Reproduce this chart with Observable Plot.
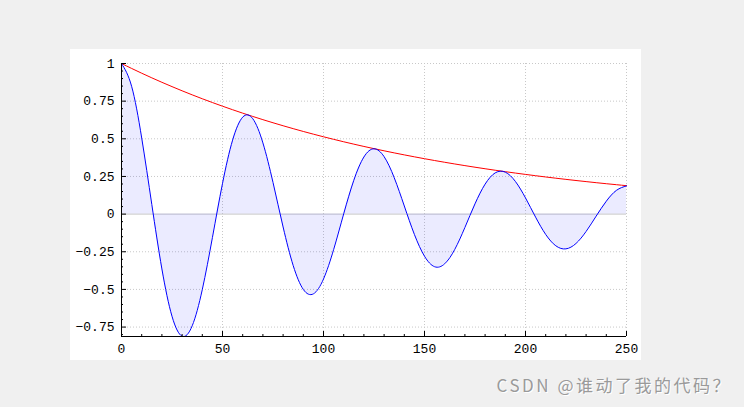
<!DOCTYPE html>
<html><head><meta charset="utf-8">
<script src="https://cdn.jsdelivr.net/npm/d3@7"></script>
<script src="https://cdn.jsdelivr.net/npm/@observablehq/plot@0.6"></script>
<style>
html,body{margin:0;padding:0;background:#f0f0f0;}
#wrap{position:relative;width:744px;height:407px;background:#f0f0f0;overflow:hidden;}
#chart{position:absolute;left:70px;top:49px;}
#mark{position:absolute;right:12px;top:376px;font-family:"Noto Sans CJK SC";font-size:17px;letter-spacing:2.5px;color:#9a9a9a;text-shadow:1px 1px 0 #fff;line-height:17px;white-space:nowrap;}
</style></head>
<body><div id="wrap"><div id="chart"></div><div id="mark">CSDN @谁动了我的代码？</div></div>
<script>
const xs = [0,5,10,15,20,25,30,35,40,45,50,55,60,65,70,75,80,85,90,95,100,105,110,115,120,125,130,135,140,145,150,155,160,165,170,175,180,185,190,195,200,205,210,215,220,225,230,235,240,245,250];
const damped = [1.00000,0.84881,0.50546,0.06401,-0.36420,-0.67815,-0.81054,-0.74157,-0.50064,-0.15617,
  0.20325,0.49114,0.64362,0.63317,0.47277,0.21025,-0.08536,-0.34159,-0.50004,-0.52932,
  -0.43080,-0.23615,0.00213,0.22452,0.37917,0.43364,0.38145,0.24213,0.05377,-0.13499,
  -0.27947,-0.34929,-0.32959,-0.23381,-0.08859,0.06833,0.19888,0.27370,0.27858,0.21688,
  0.10757,-0.02028,-0.13507,-0.21032,-0.23068,-0.19486,-0.11500,-0.01292,0.08566,0.15748,0.18722];
const envelope = [1.00000,0.96722,0.93551,0.90484,0.87517,0.84648,0.81873,0.79189,0.76593,0.74082,
  0.71653,0.69304,0.67032,0.64835,0.62709,0.60653,0.58665,0.56742,0.54881,0.53082,
  0.51342,0.49659,0.48031,0.46456,0.44933,0.43460,0.42035,0.40657,0.39324,0.38035,
  0.36788,0.35582,0.34416,0.33287,0.32196,0.31140,0.30119,0.29132,0.28176,0.27253,
  0.26360,0.25495,0.24660,0.23851,0.23069,0.22313,0.21581,0.20874,0.20190,0.19528,0.18888];
const xDomain = [0, 250];
const yDomain = [-0.8126, 1];
const xMajorTicks = [0, 50, 100, 150, 200, 250];
const xMinorTicks = [10,20,30,40,60,70,80,90,110,120,130,140,160,170,180,190,210,220,230,240];
const yMajorTicks = [-0.75, -0.5, -0.25, 0, 0.25, 0.5, 0.75, 1];
const yTickLabels = ["\u22120.75", "\u22120.5", "\u22120.25", "0", "0.25", "0.5", "0.75", "1"];
const yMinorTicks = [-0.8,-0.7,-0.65,-0.6,-0.55,-0.45,-0.4,-0.35,-0.3,-0.2,-0.15,-0.1,-0.05,0.05,0.1,0.15,0.2,0.3,0.35,0.4,0.45,0.55,0.6,0.65,0.7,0.8,0.85,0.9,0.95];
const xGrid = [50, 100, 150, 200, 250];
const yGrid = [-0.75, -0.5, -0.25, 0.25, 0.5, 0.75, 1];

const data = xs.map((x, i) => ({x, y: damped[i], e: envelope[i]}));
const gridStyle = {stroke: "rgb(200,200,200)", strokeOpacity: 1, strokeDasharray: "1,2"};
const axisFont = {fontSize: 13, fontFamily: "Liberation Mono"};

const chart = Plot.plot({
  width: 571, height: 311,
  marginLeft: 51, marginRight: 15, marginTop: 14, marginBottom: 24,
  style: {background: "white", fontFamily: "Liberation Mono", fontSize: "13px", color: "black", overflow: "visible"},
  x: {domain: xDomain, label: null},
  y: {domain: yDomain, label: null},
  marks: [
    Plot.gridX(xGrid, gridStyle),
    Plot.gridY(yGrid, gridStyle),
    Plot.ruleY([0], {stroke: "rgb(200,200,200)", strokeWidth: 1}),
    Plot.areaY(data, {x: "x", y: "y", fill: "blue", fillOpacity: 20/255, curve: "natural"}),
    Plot.line(data, {x: "x", y: "e", stroke: "red", strokeWidth: 1, curve: "natural"}),
    Plot.line(data, {x: "x", y: "y", stroke: "blue", strokeWidth: 1, curve: "natural"}),
    Plot.ruleX([xDomain[0]], {y1: yDomain[0], y2: yDomain[1], stroke: "black"}),
    Plot.ruleY([yDomain[0]], {x1: xDomain[0], x2: xDomain[1], stroke: "black"}),
    Plot.axisX({ticks: xMajorTicks, tickSize: -5, tickPadding: 12, tickFormat: d => String(d), ...axisFont}),
    Plot.axisX({ticks: xMinorTicks, tickSize: -2, text: null}),
    Plot.axisY({ticks: yMajorTicks, tickSize: -5, tickPadding: 12, tickFormat: d => yTickLabels[yMajorTicks.indexOf(d)], ...axisFont}),
    Plot.axisY({ticks: yMinorTicks, tickSize: -2, text: null})
  ]
});
document.getElementById("chart").appendChild(chart);
</script>
</body></html>
